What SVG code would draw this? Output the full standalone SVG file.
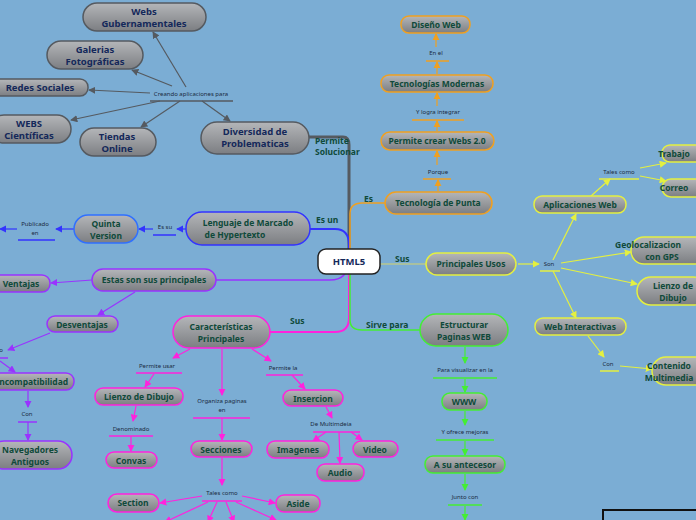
<svg xmlns="http://www.w3.org/2000/svg" width="696" height="520" viewBox="0 0 696 520">
<defs>
<linearGradient id="g" x1="0" y1="0" x2="0" y2="1"><stop offset="0" stop-color="#b4b6b9"/><stop offset="1" stop-color="#7c7e82"/></linearGradient>
<marker id="a" viewBox="0 0 8 8" refX="7" refY="4" markerWidth="6" markerHeight="6" orient="auto-start-reverse"><path d="M0,0L8,4L0,8z" fill="context-stroke"/></marker>
<style>
.n{fill:url(#g);stroke-width:1.5}
.t{font-family:"Noto Sans","Open Sans",sans-serif;font-weight:bold;font-size:8.5px;fill:#0f4a3a;text-anchor:middle}
.tb{font-family:"Noto Sans","Open Sans",sans-serif;font-weight:bold;font-size:9.5px;fill:#14285a;text-anchor:middle}
.l{font-family:"Noto Sans","Open Sans",sans-serif;font-size:6px;fill:#1a2a40;text-anchor:middle}
.lb{font-family:"Noto Sans","Open Sans",sans-serif;font-weight:bold;font-size:8.5px;fill:#0f4a3a}
.c{fill:none;stroke-width:1.2;marker-end:url(#a)}
.u{stroke-width:1.5}
.gy{stroke:#555a60}.bl{stroke:#3333ff}.pu{stroke:#9933ff}.mg{stroke:#ff22dd}.or{stroke:#f0a020}.ye{stroke:#e4f040}.gr{stroke:#44ee33}
</style>
</defs>
<rect width="696" height="520" fill="#7badd4"/>
<g id="connectors">
<path d="M309,137 H343 Q349,137 349,145 V250" fill="none" stroke="#555a60" stroke-width="3"/>
<path d="M310,229 H335 Q349,229 349,245 V250" fill="none" stroke="#3333ff" stroke-width="2"/>
<path d="M348,262 Q348,280 330,280 H216" fill="none" stroke="#9933ff" stroke-width="1.5"/>
<path d="M349,262 V318 Q349,332 335,332 H270" fill="none" stroke="#ff22dd" stroke-width="2"/>
<path d="M350,262 V320 Q350,330 362,330 H420" fill="none" stroke="#44ee33" stroke-width="1.5"/>
<path d="M350,249 V214 Q350,203 362,203 H385" fill="none" stroke="#f0a020" stroke-width="1.5"/>
<path d="M380,264 H426" fill="none" stroke="#a8c0a0" stroke-width="2"/>
<line class="u gy" x1="150" y1="101" x2="233" y2="101"/>
<path class="c gy" d="M186,87 L153,32"/>
<path class="c gy" d="M172,86 L132,70"/>
<path class="c gy" d="M150,93 L89,90"/>
<path class="c gy" d="M160,101 L71,120"/>
<path class="c gy" d="M180,101 L141,127"/>
<path class="c gy" d="M202,101 L230,121"/>
<line class="u bl" x1="153" y1="235" x2="176" y2="235"/>
<line class="u bl" x1="18" y1="240" x2="55" y2="240"/>
<path class="c bl" d="M186,229 L177,229"/>
<path class="c bl" d="M153,229 L139,229"/>
<path class="c bl" d="M74,229 L56,229"/>
<path class="c bl" d="M17,229 L0,229"/>
<line class="u pu" x1="0" y1="358" x2="8" y2="358"/>
<line class="u pu" x1="18" y1="422" x2="37" y2="422"/>
<path class="c pu" d="M92,280 L51,283"/>
<path class="c pu" d="M135,292 L98,315"/>
<path class="c pu" d="M50,333 L8,350"/>
<path class="c pu" d="M0,361 L15,372"/>
<path class="c pu" d="M28,391 L28,407"/>
<path class="c pu" d="M28,422 L28,440"/>
<line class="u mg" x1="136" y1="373" x2="182" y2="373"/>
<line class="u mg" x1="109" y1="436" x2="153" y2="436"/>
<line class="u mg" x1="193" y1="418" x2="250" y2="418"/>
<line class="u mg" x1="202" y1="501" x2="242" y2="501"/>
<line class="u mg" x1="266" y1="375" x2="303" y2="375"/>
<line class="u mg" x1="313" y1="432" x2="360" y2="432"/>
<path class="c mg" d="M190,349 L173,358"/>
<path class="c mg" d="M154,374 L145,387"/>
<path class="c mg" d="M136,406 L133,421"/>
<path class="c mg" d="M131,436 L131,451"/>
<path class="c mg" d="M222,349 L222,395"/>
<path class="c mg" d="M222,418 L222,440"/>
<path class="c mg" d="M222,458 L222,485"/>
<path class="c mg" d="M252,349 L271,361"/>
<path class="c mg" d="M292,375 L305,389"/>
<path class="c mg" d="M326,407 L332,418"/>
<path class="c mg" d="M326,432 L313,441"/>
<path class="c mg" d="M339,432 L340,463"/>
<path class="c mg" d="M351,432 L362,440"/>
<path class="c mg" d="M202,496 L160,503"/>
<path class="c mg" d="M242,496 L275,503"/>
<path class="c mg" d="M208,502 L165,522"/>
<path class="c mg" d="M217,502 L208,522"/>
<path class="c mg" d="M226,502 L234,522"/>
<path class="c mg" d="M236,502 L276,520"/>
<line class="u or" x1="423" y1="179" x2="451" y2="179"/>
<line class="u or" x1="412" y1="120" x2="464" y2="120"/>
<line class="u or" x1="426" y1="61" x2="449" y2="61"/>
<path class="c or" d="M438,191 L438,180"/>
<path class="c or" d="M437,165 L437,151"/>
<path class="c or" d="M437,131 L437,121"/>
<path class="c or" d="M437,106 L437,93"/>
<path class="c or" d="M437,74 L437,62"/>
<path class="c or" d="M436,47 L436,34"/>
<line class="u ye" x1="540" y1="271" x2="560" y2="271"/>
<line class="u ye" x1="599" y1="179" x2="639" y2="179"/>
<line class="u ye" x1="600" y1="371" x2="619" y2="371"/>
<path class="c ye" d="M518,264 L539,264"/>
<path class="c ye" d="M553,260 L576,214"/>
<path class="c ye" d="M591,196 L610,179"/>
<path class="c ye" d="M640,168 L666,163"/>
<path class="c ye" d="M640,176 L666,181"/>
<path class="c ye" d="M561,263 L631,252"/>
<path class="c ye" d="M561,268 L637,284"/>
<path class="c ye" d="M553,271 L576,318"/>
<path class="c ye" d="M588,336 L604,357"/>
<path class="c ye" d="M620,366 L652,369"/>
<line class="u gr" x1="433" y1="378" x2="497" y2="378"/>
<line class="u gr" x1="436" y1="440" x2="494" y2="440"/>
<line class="u gr" x1="448" y1="505" x2="482" y2="505"/>
<path class="c gr" d="M465,347 L465,363"/>
<path class="c gr" d="M465,379 L465,392"/>
<path class="c gr" d="M465,411 L465,425"/>
<path class="c gr" d="M465,441 L465,455"/>
<path class="c gr" d="M465,474 L465,490"/>
<path class="c gr" d="M465,506 L465,520"/>
</g>
<g id="labels">
<text class="l" x="191" y="96">Creando aplicaciones para</text>
<text class="lb" x="315" y="144">Permite</text><text class="lb" x="315" y="155">Solucionar</text>
<text class="lb" x="316" y="223">Es un</text>
<text class="l" x="165" y="229">Es su</text>
<text class="l" x="35" y="226">Publicado</text><text class="l" x="35" y="235">en</text>
<text class="l" x="1" y="352" text-anchor="start">o</text>
<text class="l" x="27" y="416">Con</text>
<text class="lb" x="290" y="324">Sus</text>
<text class="l" x="157" y="368">Permite usar</text>
<text class="l" x="131" y="431">Denominado</text>
<text class="l" x="222" y="403">Organiza paginas</text><text class="l" x="222" y="412">en</text>
<text class="l" x="222" y="495">Tales como</text>
<text class="l" x="283" y="370">Permite la</text>
<text class="l" x="331" y="426">De Multimdeia</text>
<text class="lb" x="364" y="202">Es</text>
<text class="l" x="438" y="174">Porque</text>
<text class="l" x="438" y="114">Y logra integrar</text>
<text class="l" x="436" y="55">En el</text>
<text class="lb" x="395" y="262">Sus</text>
<text class="l" x="549" y="266">Son</text>
<text class="l" x="619" y="174">Tales como</text>
<text class="l" x="608" y="366">Con</text>
<text class="lb" x="366" y="328">Sirve para</text>
<text class="l" x="465" y="372">Para visualizar en la</text>
<text class="l" x="465" y="434">Y ofrece mejoras</text>
<text class="l" x="465" y="499">Junto con</text>
</g>
<g id="html5"><rect x="318" y="249" width="62" height="25" rx="8" fill="#fff" stroke="#222" stroke-width="1.5"/><text class="tb" x="349" y="265">HTML5</text></g>
<g id="webs-gub"><rect class="n gy" x="83" y="3" width="123" height="28" rx="14"/><text class="tb" x="144" y="15">Webs</text><text class="tb" x="144" y="27">Gubernamentales</text></g>
<g id="galerias"><rect class="n gy" x="47" y="41" width="96" height="28" rx="14"/><text class="tb" x="95" y="53">Galerias</text><text class="tb" x="95" y="65">Fotográficas</text></g>
<g id="redes"><rect class="n gy" x="-10" y="79" width="98" height="17" rx="8"/><text class="tb" x="40" y="91">Redes Sociales</text></g>
<g id="webs-cie"><rect class="n gy" x="-10" y="115" width="81" height="28" rx="14"/><text class="tb" x="29" y="127">WEBS</text><text class="tb" x="29" y="139">Científicas</text></g>
<g id="tiendas"><rect class="n gy" x="80" y="128" width="76" height="28" rx="14"/><text class="tb" x="117" y="140">Tiendas</text><text class="tb" x="117" y="152">Online</text></g>
<g id="diversidad"><rect class="n gy" x="201" y="122" width="108" height="32" rx="16"/><text class="tb" x="255" y="135">Diversidad de</text><text class="tb" x="255" y="147">Problematicas</text></g>
<g id="lenguaje"><rect class="n bl" x="186" y="212" width="124" height="33" rx="16"/><text class="t" x="248" y="226">Lenguaje de Marcado</text><text class="t" x="235" y="238">de Hypertexto</text></g>
<g id="quinta"><rect class="n" stroke="#3070ff" x="74" y="215" width="64" height="28" rx="14"/><text class="t" x="106" y="227">Quinta</text><text class="t" x="106" y="239">Version</text></g>
<g id="estas"><rect class="n pu" x="92" y="269" width="124" height="22" rx="11"/><text class="t" x="154" y="283">Estas son sus principales</text></g>
<g id="ventajas"><rect class="n pu" x="-10" y="275" width="60" height="17" rx="8"/><text class="t" x="21" y="287">Ventajas</text></g>
<g id="desventajas"><rect class="n pu" x="47" y="316" width="71" height="16" rx="8"/><text class="t" x="82" y="328">Desventajas</text></g>
<g id="incompat"><rect class="n pu" x="-10" y="373" width="84" height="17" rx="8"/><text class="t" x="32" y="385">Incompatibilidad</text></g>
<g id="navegadores"><rect class="n pu" x="-10" y="441" width="82" height="28" rx="14"/><text class="t" x="30" y="453">Navegadores</text><text class="t" x="30" y="465">Antiguos</text></g>
<g id="caract"><rect class="n mg" x="173" y="316" width="97" height="32" rx="16"/><text class="t" x="221" y="330">Características</text><text class="t" x="221" y="342">Principales</text></g>
<g id="lienzo1"><rect class="n mg" x="95" y="388" width="88" height="17" rx="8"/><text class="t" x="139" y="400">Lienzo de Dibujo</text></g>
<g id="convas"><rect class="n mg" x="106" y="452" width="51" height="16" rx="8"/><text class="t" x="131" y="464">Convas</text></g>
<g id="secciones"><rect class="n mg" x="191" y="441" width="61" height="16" rx="8"/><text class="t" x="221" y="453">Secciones</text></g>
<g id="section"><rect class="n mg" x="108" y="494" width="51" height="18" rx="9"/><text class="t" x="133" y="506">Section</text></g>
<g id="aside"><rect class="n mg" x="276" y="495" width="44" height="17" rx="8"/><text class="t" x="298" y="507">Aside</text></g>
<g id="insercion"><rect class="n mg" x="283" y="390" width="60" height="16" rx="8"/><text class="t" x="313" y="402">Insercion</text></g>
<g id="imagenes"><rect class="n mg" x="267" y="441" width="62" height="17" rx="8"/><text class="t" x="298" y="453">Imagenes</text></g>
<g id="audio"><rect class="n mg" x="317" y="464" width="47" height="17" rx="8"/><text class="t" x="340" y="476">Audio</text></g>
<g id="video"><rect class="n mg" x="353" y="441" width="45" height="16" rx="8"/><text class="t" x="375" y="453">Video</text></g>
<g id="tec-punta"><rect class="n or" x="385" y="192" width="107" height="22" rx="11"/><text class="t" x="438" y="206">Tecnología de Punta</text></g>
<g id="webs20"><rect class="n or" x="381" y="132" width="113" height="18" rx="9"/><text class="t" x="437" y="144">Permite crear Webs 2.0</text></g>
<g id="tec-mod"><rect class="n or" x="381" y="75" width="112" height="17" rx="8"/><text class="t" x="437" y="87">Tecnologías Modernas</text></g>
<g id="diseno"><rect class="n or" x="401" y="16" width="69" height="17" rx="8"/><text class="t" x="436" y="28">Diseño Web</text></g>
<g id="usos"><rect class="n ye" x="426" y="253" width="90" height="22" rx="11"/><text class="t" x="471" y="267">Principales Usos</text></g>
<g id="apps"><rect class="n ye" x="534" y="196" width="92" height="17" rx="8"/><text class="t" x="580" y="208">Aplicaciones Web</text></g>
<g id="trabajo"><rect class="n ye" x="662" y="145" width="50" height="17" rx="8"/><text class="t" x="674" y="157" text-anchor="start">Trabajo</text></g>
<g id="correo"><rect class="n ye" x="662" y="179" width="50" height="18" rx="9"/><text class="t" x="674" y="191" text-anchor="start">Correo</text></g>
<g id="geo"><rect class="n ye" x="631" y="237" width="80" height="27" rx="13"/><text class="t" x="648" y="248" text-anchor="start">Geolocalizacion</text><text class="t" x="662" y="260" text-anchor="start">con GPS</text></g>
<g id="lienzo2"><rect class="n ye" x="637" y="277" width="70" height="28" rx="14"/><text class="t" x="673" y="289">Lienzo de</text><text class="t" x="673" y="301">Dibujo</text></g>
<g id="webint"><rect class="n ye" x="535" y="318" width="91" height="17" rx="8"/><text class="t" x="580" y="330">Web Interactivas</text></g>
<g id="contenido"><rect class="n ye" x="652" y="357" width="60" height="28" rx="14"/><text class="t" x="669" y="369" text-anchor="start">Contenido</text><text class="t" x="669" y="381" text-anchor="start">Multimedia</text></g>
<g id="estructurar"><rect class="n gr" x="420" y="314" width="88" height="32" rx="16"/><text class="t" x="464" y="328">Estructurar</text><text class="t" x="464" y="340">Paginas WEB</text></g>
<g id="www"><rect class="n gr" x="442" y="393" width="45" height="17" rx="8"/><text class="t" x="464" y="405">WWW</text></g>
<g id="antecesor"><rect class="n gr" x="425" y="456" width="80" height="17" rx="8"/><text class="t" x="465" y="468">A su antecesor</text></g>
<rect x="603" y="510" width="100" height="20" fill="#7badd4" stroke="#111" stroke-width="2"/>
</svg>
